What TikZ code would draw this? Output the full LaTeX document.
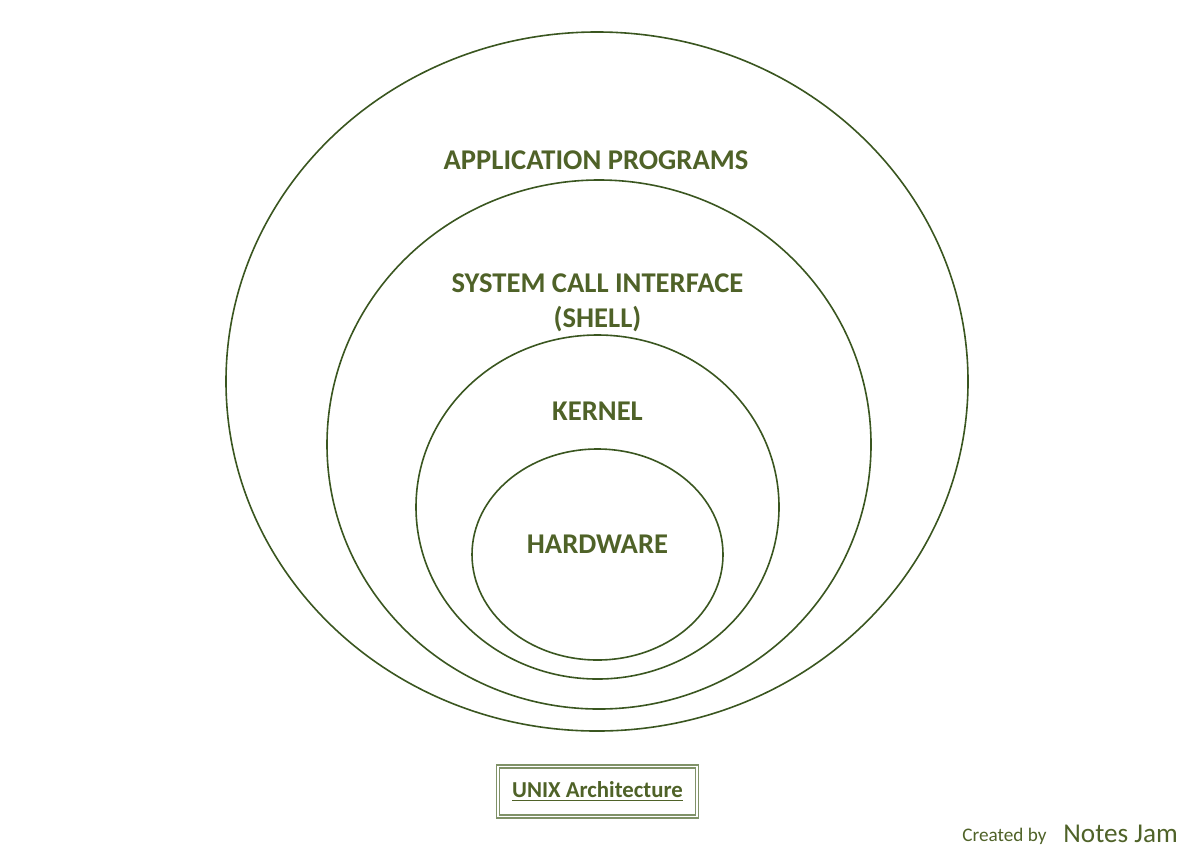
\documentclass[tikz,border=0pt]{standalone}
\usepackage{fontspec}
\setmainfont{Carlito}
\usepackage{tikz}
\usetikzlibrary{positioning, shapes.geometric}
\definecolor{leaf}{RGB}{79,98,40}
\definecolor{leafline}{RGB}{58,86,32}
\definecolor{leafpale}{RGB}{128,146,104}
\begin{document}
\begin{tikzpicture}[x=0.5bp,y=-0.5bp]
		\tikzstyle{ring} = [shape=ellipse, draw=leafline, line width=0.8bp, inner sep=0, outer sep=0]
		\tikzstyle{layer} = [text=leaf, font=\fontsize{14.3bp}{17.5bp}\selectfont\bfseries, align=center, inner sep=0]
		\tikzstyle{caption} = [draw=leafpale, double=white, double distance=0.8bp, line width=0.7bp, text=leaf, font=\fontsize{11.4bp}{13bp}\selectfont\bfseries, minimum width=99.4bp, minimum height=24.9bp, inner sep=0]
		\tikzstyle{credit} = [text=leaf, inner sep=0, anchor=base west]
		\useasboundingbox (0,0) rectangle (1200,860);
		\node [ring, minimum width=371bp, minimum height=349.5bp] (v1) at (597,381.5) {};
		\node [ring, minimum width=272bp, minimum height=264.5bp] (v2) at (599,444.5) {};
		\node [ring, minimum width=181.5bp, minimum height=172bp] (v3) at (597.5,507) {};
		\node [ring, minimum width=125.5bp, minimum height=105.5bp] (v4) at (597.5,554.5) {};
		\node [layer] (v5) at (596,160.5) {APPLICATION PROGRAMS};
		\node [layer] (v6) at (597.5,302.5) {SYSTEM CALL INTERFACE\\(SHELL)};
		\node [layer] (v7) at (597.5,411.5) {KERNEL};
		\node [layer] (v8) at (597.5,544) {HARDWARE};
		\node [caption] (v9) at (597.5,791.5) {\underline{UNIX Architecture}};
		\node [credit, font=\fontsize{9.6bp}{11bp}\selectfont] (v10) at (962,841) {Created by};
		\node [credit, font=\fontsize{13.6bp}{16bp}\selectfont] (v11) at (1063,842) {Notes Jam};
		\end{tikzpicture}
\end{document}
